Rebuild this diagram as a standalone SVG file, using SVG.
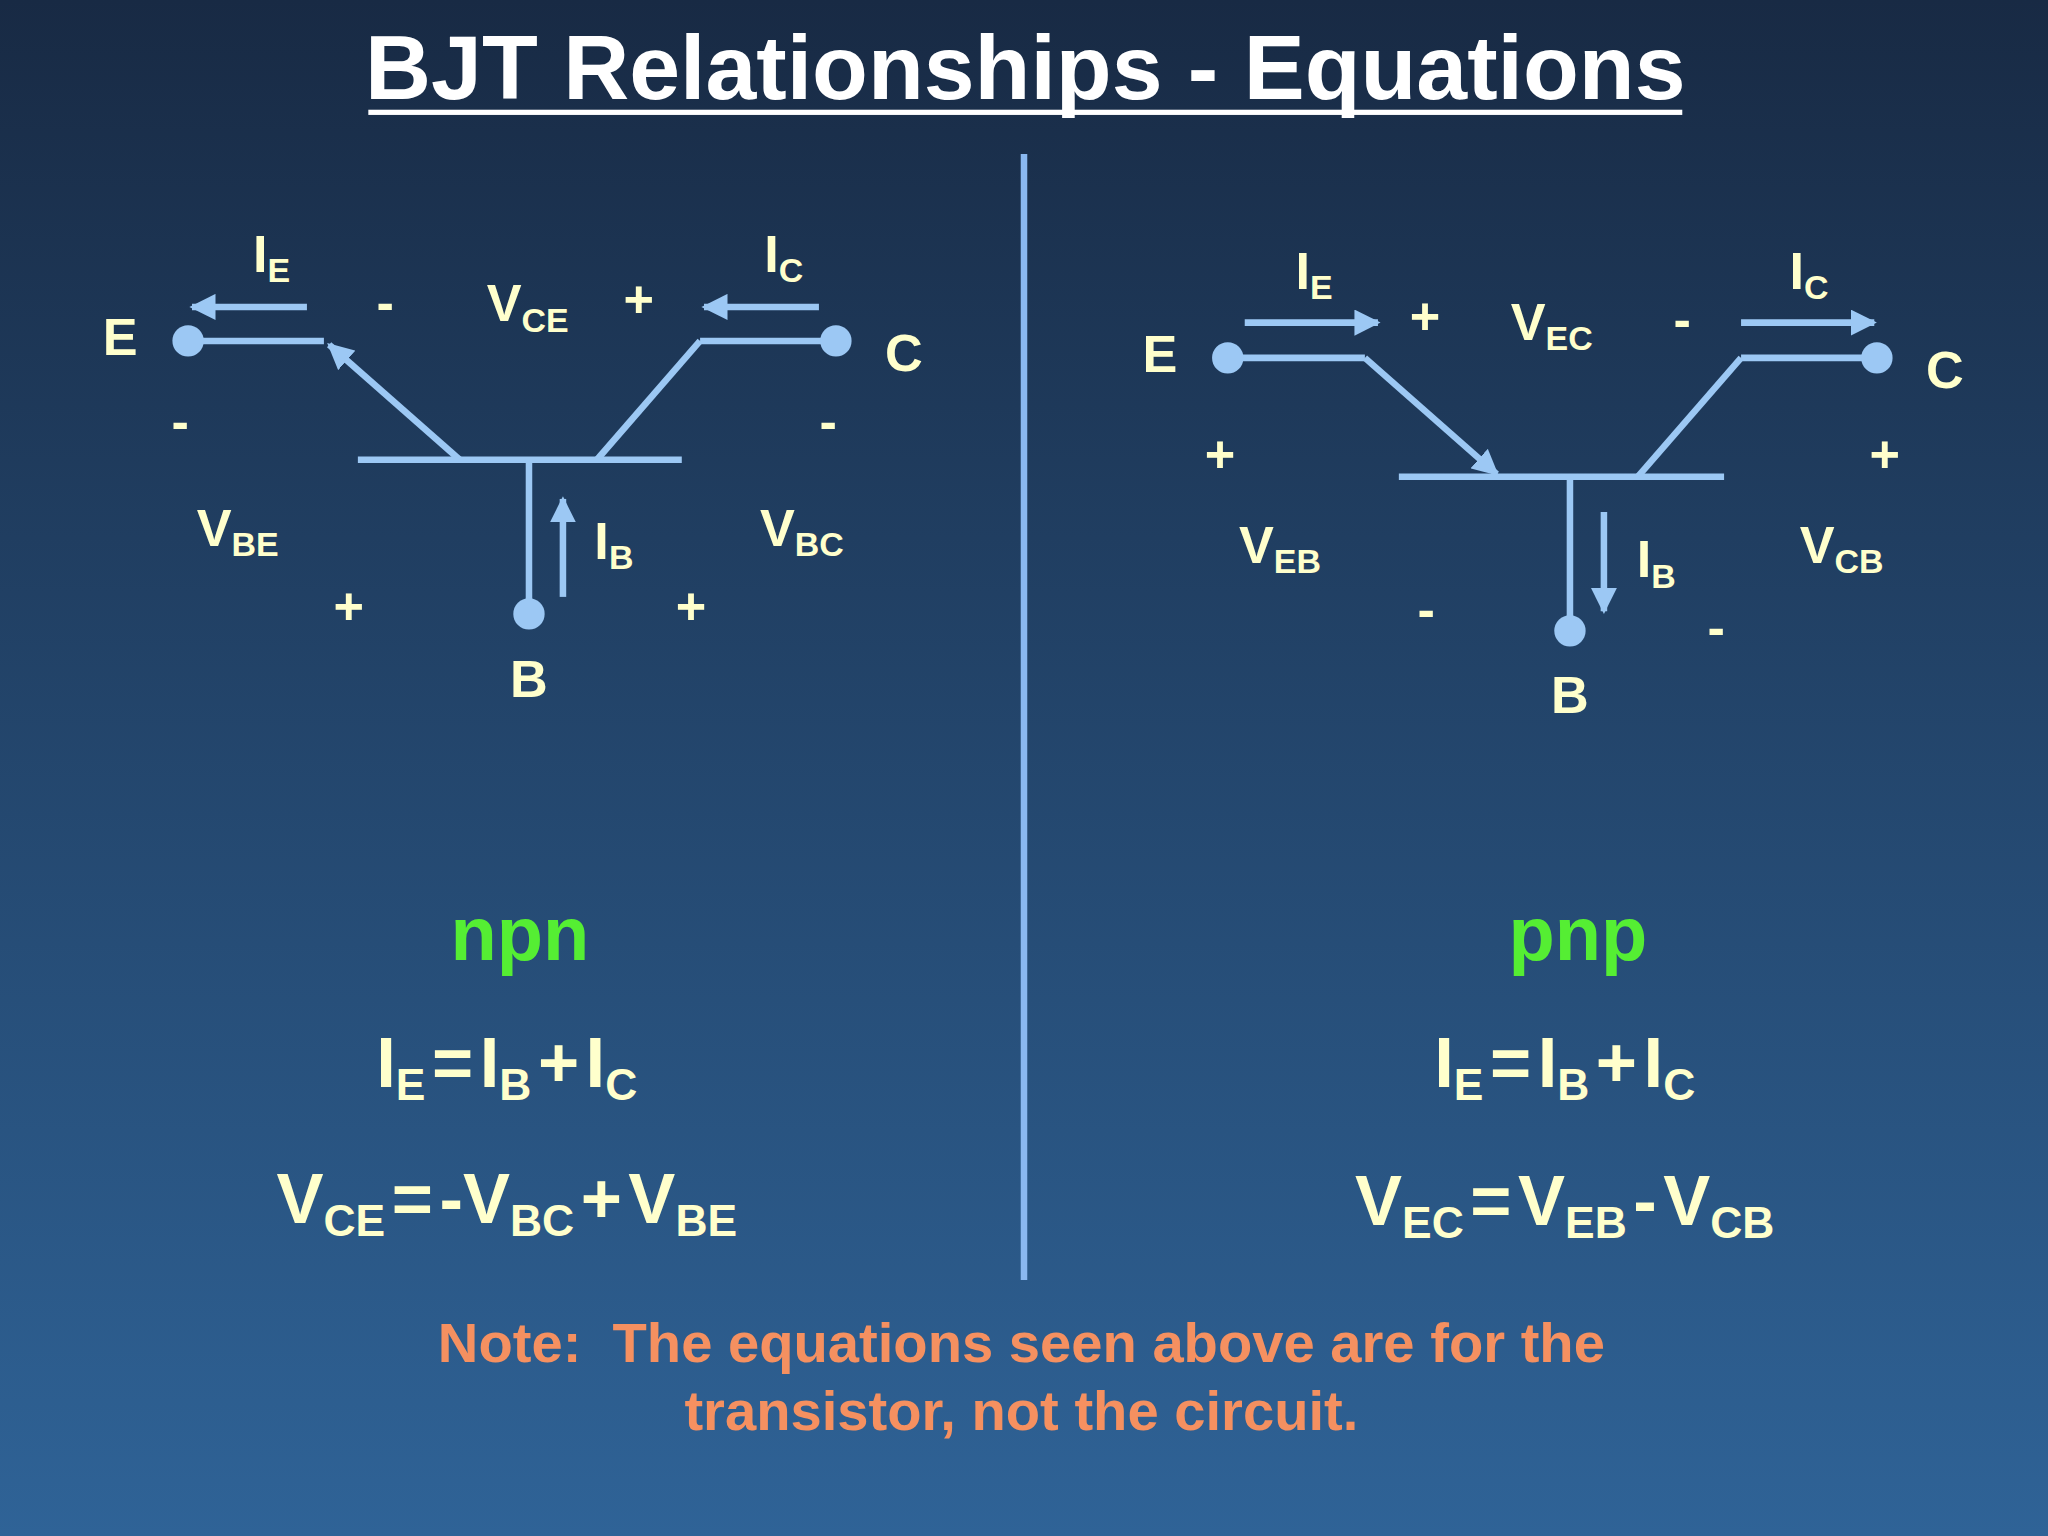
<svg xmlns="http://www.w3.org/2000/svg" width="2048" height="1536" viewBox="0 0 2048 1536">
<defs>
<linearGradient id="bg" x1="0" y1="0" x2="0" y2="1"><stop offset="0" stop-color="#182a44"/><stop offset="1" stop-color="#2f6397"/></linearGradient>
<marker id="ah" viewBox="0 0 10 10" refX="9" refY="5" markerWidth="4" markerHeight="4" orient="auto" markerUnits="strokeWidth"><path d="M0,0 L10,5 L0,10 z" fill="#9cc8f4"/></marker>
<style>
.w{stroke:#9cc8f4;stroke-width:5;fill:none}
.a{stroke:#9cc8f4;stroke-width:5;fill:none;marker-end:url(#ah)}
.d{fill:#9cc8f4}
text{font-family:"Liberation Sans",Arial,sans-serif;font-weight:bold}
.l{fill:#ffffcc;font-size:40px;text-anchor:middle}
.s{font-size:26px}
.g{fill:#55ee33;font-size:58px;text-anchor:middle}
.eq{fill:#ffffcc;font-size:54px;text-anchor:middle}
.n{fill:#f59060;font-size:43px;text-anchor:middle}
</style>
</defs>
<rect width="2048" height="1536" fill="url(#bg)"/>
<g transform="scale(1.30612)">
<g id="title"><text x="785" y="76" fill="#fff" font-size="70" text-anchor="middle">BJT Relationships - Equations</text><rect x="282" y="84" width="1006" height="4" fill="#fff"/></g>
<g id="connectors">
<line x1="784" y1="118" x2="784" y2="980" stroke="#8ab8f0" stroke-width="5"/>
<line class="w" x1="144" y1="261" x2="248" y2="261"/>
<line class="a" x1="352" y1="352" x2="252" y2="264"/>
<line class="w" x1="536" y1="261" x2="640" y2="261"/>
<line class="w" x1="536" y1="261" x2="457" y2="352"/>
<line class="w" x1="274" y1="352" x2="522" y2="352"/>
<line class="w" x1="405" y1="352" x2="405" y2="470"/>
<line class="a" x1="235" y1="235" x2="147" y2="235"/>
<line class="a" x1="627" y1="235" x2="539" y2="235"/>
<line class="a" x1="431" y1="457" x2="431" y2="382"/>
<line class="w" x1="940" y1="274" x2="1045" y2="274"/>
<line class="a" x1="1045" y1="274" x2="1146" y2="363"/>
<line class="w" x1="1333" y1="274" x2="1437" y2="274"/>
<line class="w" x1="1333" y1="274" x2="1254" y2="365"/>
<line class="w" x1="1071" y1="365" x2="1320" y2="365"/>
<line class="w" x1="1202" y1="365" x2="1202" y2="483"/>
<line class="a" x1="953" y1="247" x2="1055" y2="247"/>
<line class="a" x1="1333" y1="247" x2="1435" y2="247"/>
<line class="a" x1="1228" y1="392" x2="1228" y2="468"/>
</g>
<g id="npn-E"><circle class="d" cx="144" cy="261" r="12"/><text class="l" x="92" y="272">E</text></g>
<g id="npn-C"><circle class="d" cx="640" cy="261" r="12"/><text class="l" x="692" y="284">C</text></g>
<g id="npn-B"><circle class="d" cx="405" cy="470" r="12"/><text class="l" x="405" y="534">B</text></g>
<g id="npn-labels">
<text class="l" x="208" y="208">I<tspan class="s" dy="8">E</tspan></text>
<text class="l" x="600" y="208">I<tspan class="s" dy="8">C</tspan></text>
<text class="l" x="470" y="428">I<tspan class="s" dy="8">B</tspan></text>
<text class="l" x="404" y="246">V<tspan class="s" dy="8">CE</tspan></text>
<text class="l" x="295" y="245">-</text><text class="l" x="489" y="243">+</text>
<text class="l" x="138" y="336">-</text><text class="l" x="182" y="418">V<tspan class="s" dy="8">BE</tspan></text><text class="l" x="267" y="478">+</text>
<text class="l" x="634" y="336">-</text><text class="l" x="614" y="418">V<tspan class="s" dy="8">BC</tspan></text><text class="l" x="529" y="478">+</text>
</g>
<g id="pnp-E"><circle class="d" cx="940" cy="274" r="12"/><text class="l" x="888" y="285">E</text></g>
<g id="pnp-C"><circle class="d" cx="1437" cy="274" r="12"/><text class="l" x="1489" y="297">C</text></g>
<g id="pnp-B"><circle class="d" cx="1202" cy="483" r="12"/><text class="l" x="1202" y="546">B</text></g>
<g id="pnp-labels">
<text class="l" x="1006" y="221">I<tspan class="s" dy="8">E</tspan></text>
<text class="l" x="1385" y="221">I<tspan class="s" dy="8">C</tspan></text>
<text class="l" x="1268" y="442">I<tspan class="s" dy="8">B</tspan></text>
<text class="l" x="1188" y="260">V<tspan class="s" dy="8">EC</tspan></text>
<text class="l" x="1091" y="256">+</text><text class="l" x="1288" y="258">-</text>
<text class="l" x="934" y="361">+</text><text class="l" x="980" y="431">V<tspan class="s" dy="8">EB</tspan></text><text class="l" x="1092" y="480">-</text>
<text class="l" x="1443" y="361">+</text><text class="l" x="1410" y="431">V<tspan class="s" dy="8">CB</tspan></text><text class="l" x="1314" y="494">-</text>
</g>
<g id="npn-eq">
<text class="g" x="398" y="735">npn</text>
<text class="eq" x="388" y="832">I<tspan font-size="34" dy="10">E</tspan><tspan dy="-10" dx="5">=</tspan><tspan dx="5">I</tspan><tspan font-size="34" dy="10">B</tspan><tspan dy="-10" dx="5">+</tspan><tspan dx="5">I</tspan><tspan font-size="34" dy="10">C</tspan></text>
<text class="eq" x="388" y="936">V<tspan font-size="34" dy="10">CE</tspan><tspan dy="-10" dx="5">=</tspan><tspan dx="5">-V</tspan><tspan font-size="34" dy="10">BC</tspan><tspan dy="-10" dx="5">+</tspan><tspan dx="5">V</tspan><tspan font-size="34" dy="10">BE</tspan></text>
</g>
<g id="pnp-eq">
<text class="g" x="1208" y="735">pnp</text>
<text class="eq" x="1198" y="832">I<tspan font-size="34" dy="10">E</tspan><tspan dy="-10" dx="5">=</tspan><tspan dx="5">I</tspan><tspan font-size="34" dy="10">B</tspan><tspan dy="-10" dx="5">+</tspan><tspan dx="5">I</tspan><tspan font-size="34" dy="10">C</tspan></text>
<text class="eq" x="1198" y="938">V<tspan font-size="34" dy="10">EC</tspan><tspan dy="-10" dx="5">=</tspan><tspan dx="5">V</tspan><tspan font-size="34" dy="10">EB</tspan><tspan dy="-10" dx="5">-</tspan><tspan dx="5">V</tspan><tspan font-size="34" dy="10">CB</tspan></text>
</g>
<g id="note">
<text class="n" x="782" y="1043" xml:space="preserve">Note:  The equations seen above are for the</text>
<text class="n" x="782" y="1095">transistor, not the circuit.</text>
</g>
</g>
</svg>
